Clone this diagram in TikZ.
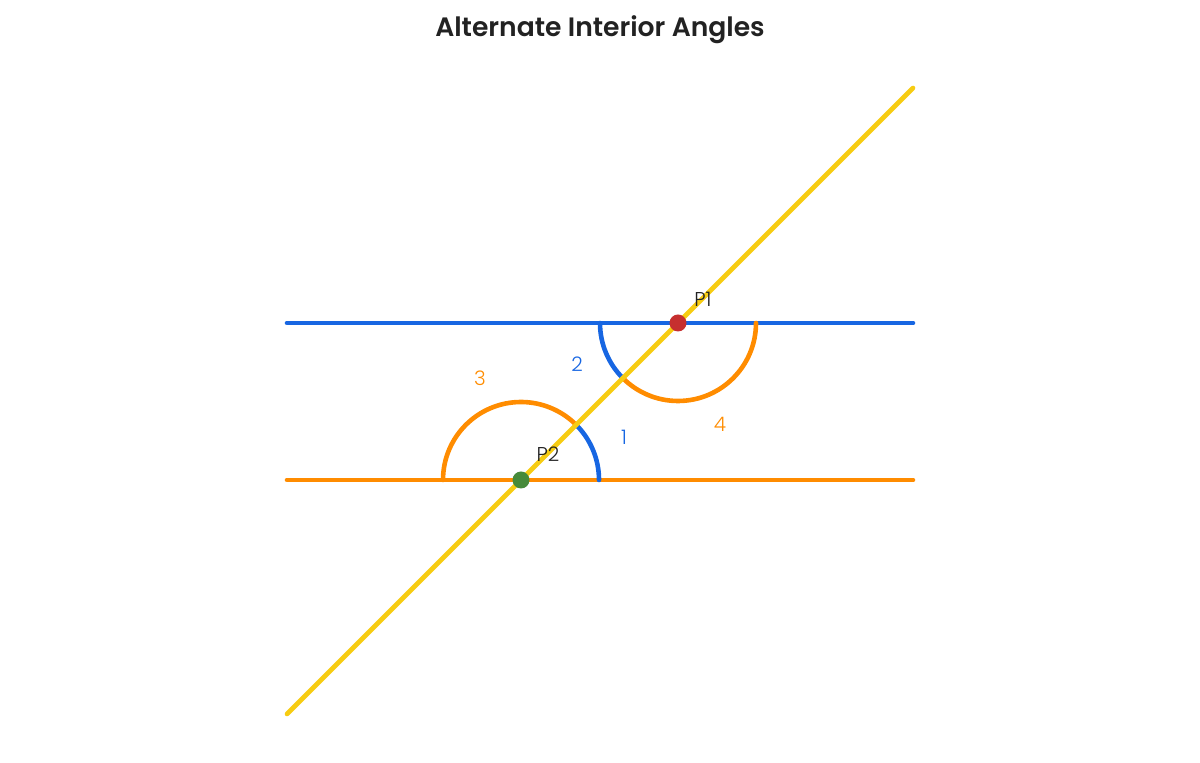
\documentclass[tikz,border=0pt]{standalone}
\usepackage{fontspec}
\setmainfont{Poppins}
\newfontfamily\titlefont{Poppins SemiBold}
\newfontfamily\labelfont{Poppins Light}
\usepackage{xcolor}
\usepackage{tikz}
\definecolor{custom_blue}{HTML}{1766E2}
\definecolor{custom_orange}{HTML}{FF8C00}
\definecolor{custom_yellow}{HTML}{F7CC12}
\definecolor{custom_red}{HTML}{C62F2F}
\definecolor{custom_green}{HTML}{468A3A}
\definecolor{custom_gray}{HTML}{222222}

\begin{document}
\begin{tikzpicture}[x=0.5pt, y=-0.5pt, line cap=round,
        geo/.style={line width=2.3pt},
        lbl/.style={font=\labelfont\fontsize{10}{12}\selectfont, inner sep=0pt}]
                \useasboundingbox (0,0) rectangle (1200,763);
                \node[font=\titlefont\fontsize{13.3}{15}\selectfont, text=custom_gray] (title) at (600,30) {Alternate Interior Angles};
                \coordinate (blue_l) at (287,323);
                \coordinate (blue_r) at (913,323);
                \coordinate (orange_l) at (287,480);
                \coordinate (orange_r) at (913,480);
                \coordinate (trans_b) at (287,714);
                \coordinate (trans_t) at (913,88);
                \coordinate (P1) at (678,323);
                \coordinate (P2) at (521,480);
                \draw[geo, custom_blue] (blue_l) -- (blue_r);
                \draw[geo, custom_orange] (orange_l) -- (orange_r);
                \draw[geo, custom_blue] (P1) ++(-78,0) arc[start angle=180, end angle=135, radius=78];
                \draw[geo, custom_orange] (P1) ++(78,0) arc[start angle=0, end angle=135, radius=78];
                \draw[geo, custom_blue] (P2) ++(78,0) arc[start angle=0, end angle=-45, radius=78];
                \draw[geo, custom_orange] (P2) ++(-78,0) arc[start angle=-180, end angle=-45, radius=78];
                \draw[geo, custom_yellow] (trans_b) -- (trans_t);
                \fill[custom_red] (P1) circle [radius=8.5];
                \fill[custom_green] (P2) circle [radius=8.5];
                \node[lbl, text=custom_gray] (P1_label) at (703,299) {P1};
                \node[lbl, text=custom_gray] (P2_label) at (548,454) {P2};
                \node[lbl, text=custom_blue] (angle_one) at (624,437) {1};
                \node[lbl, text=custom_blue] (angle_two) at (577,364) {2};
                \node[lbl, text=custom_orange] (angle_three) at (480,378) {3};
                \node[lbl, text=custom_orange] (angle_four) at (720,424) {4};

            \end{tikzpicture}
\end{document}
